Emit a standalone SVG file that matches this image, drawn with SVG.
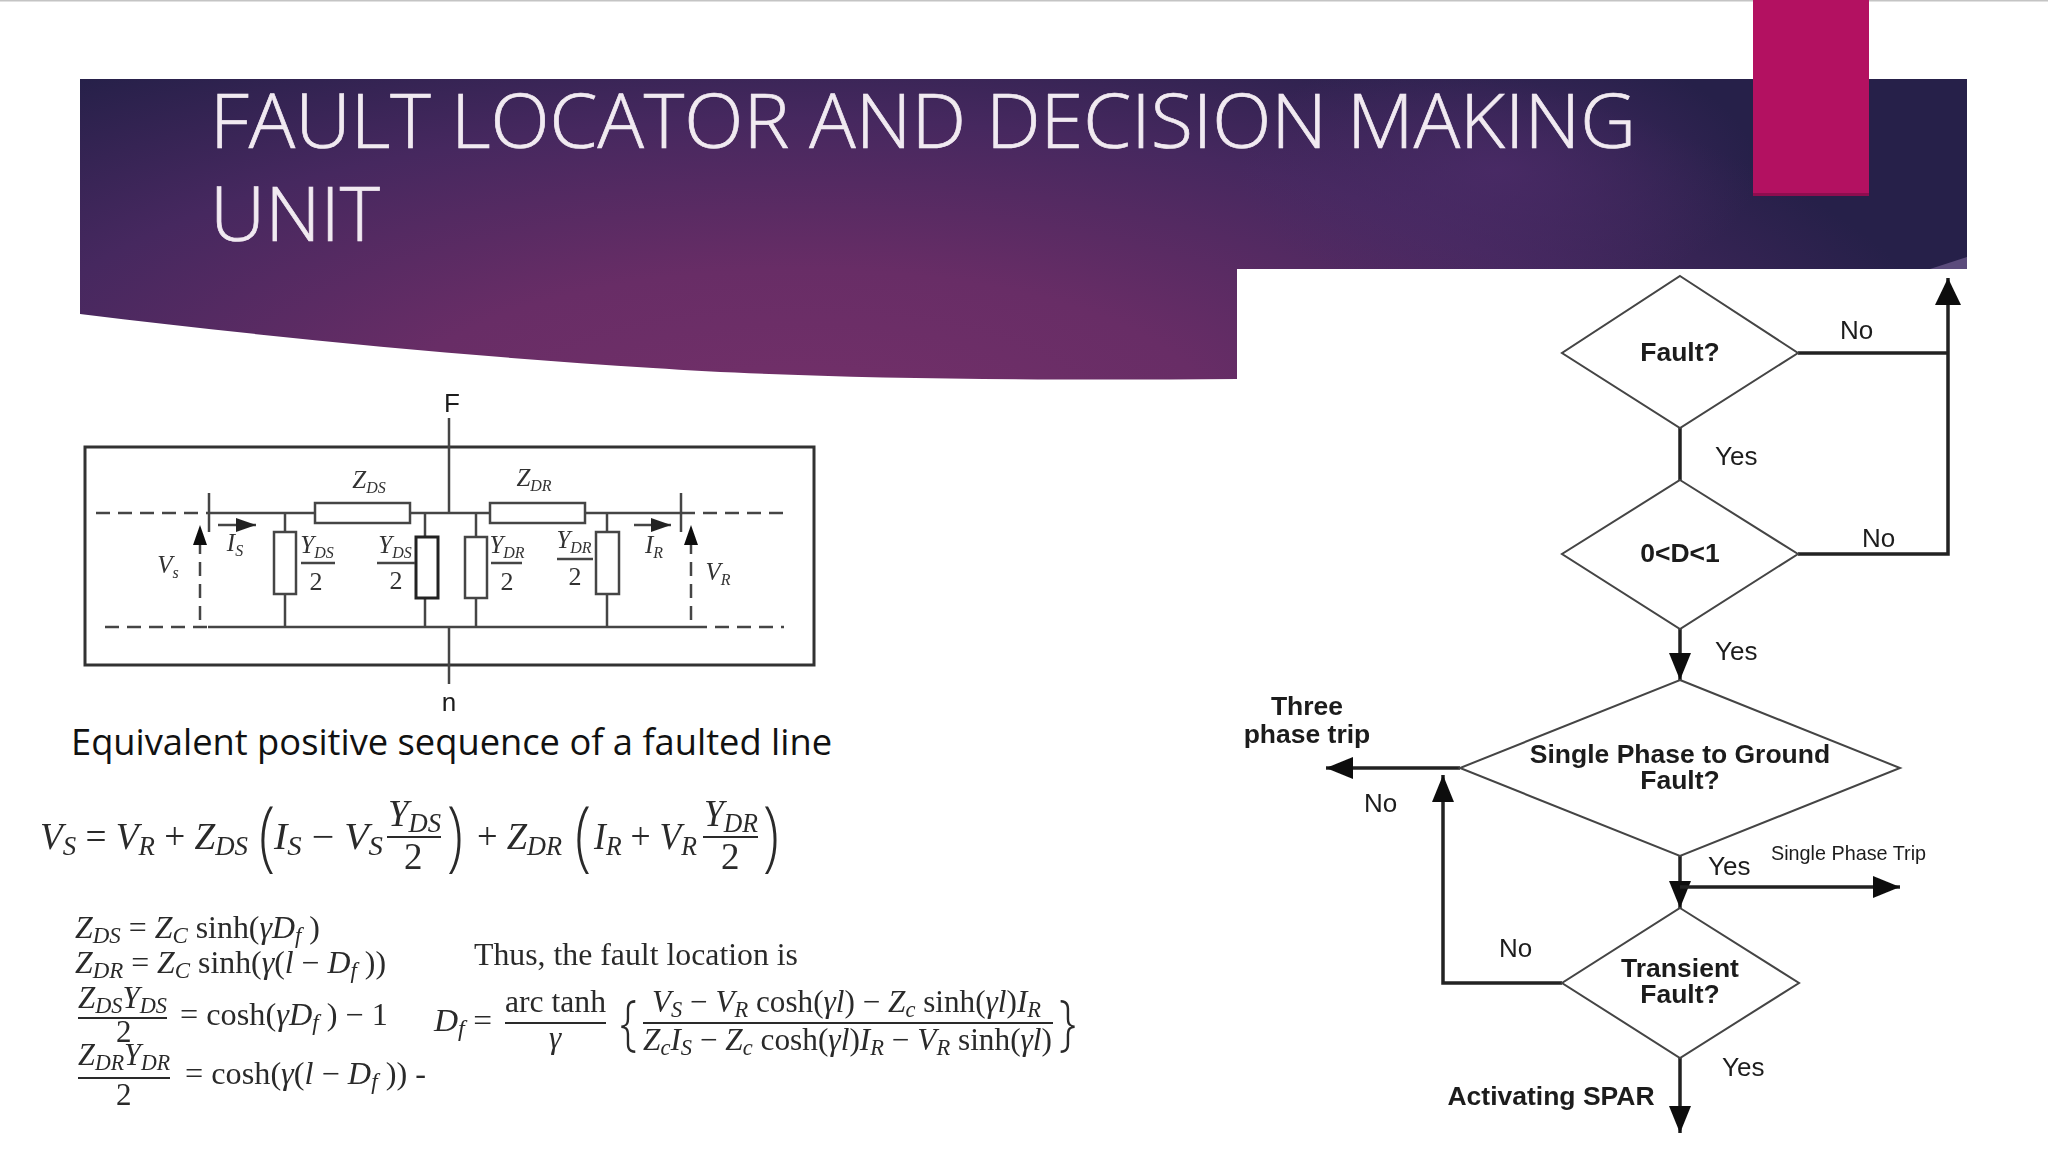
<svg xmlns="http://www.w3.org/2000/svg" width="2048" height="1152" viewBox="0 0 2048 1152">
<style>
.fl{font-family:"Liberation Sans",Arial,sans-serif;fill:#1c1c1c;font-size:26px}
.b{font-weight:700;font-size:26.5px;text-anchor:middle}
.d{fill:#fff;stroke:#444;stroke-width:2}
.c{fill:none;stroke:#222;stroke-width:3.5}
.w{fill:none;stroke:#444;stroke-width:2.5}
.da{fill:none;stroke:#444;stroke-width:2.5;stroke-dasharray:14 8}
.r{fill:#fff;stroke:#444;stroke-width:2.5}
.rt{fill:#fff;stroke:#222;stroke-width:3}
.t{font-family:"Liberation Serif","Times New Roman",serif;font-style:italic;fill:#333;font-size:25px;text-anchor:middle}
.s2{font-size:16px}
.n{font-family:"Liberation Serif","Times New Roman",serif;font-size:26px;fill:#333;text-anchor:middle}
.m{font-family:"Liberation Serif","Times New Roman",serif;fill:#2a2a2a;font-size:37px}
.i{font-style:italic}
.su{font-size:.72em;font-style:italic}
.p{font-family:"Open Sans","Liberation Sans",sans-serif;font-weight:300;fill:#2a2a2a}
.ttl{font-family:"Open Sans","Noto Sans",sans-serif;font-weight:300;font-size:75px;fill:#f1eaf1;stroke:#f1eaf1;stroke-width:.7}
</style>
<defs>
<radialGradient id="band" gradientUnits="userSpaceOnUse" cx="0" cy="0" r="1" gradientTransform="translate(800 420) scale(1180 430)">
<stop offset="0" stop-color="#733069"/>
<stop offset="0.35" stop-color="#682d66"/>
<stop offset="0.7" stop-color="#46285f"/>
<stop offset="1" stop-color="#262049"/>
</radialGradient>
<radialGradient id="glow" gradientUnits="userSpaceOnUse" cx="0" cy="0" r="1" gradientTransform="translate(1497 170) scale(260 130)">
<stop offset="0" stop-color="#4c2b68" stop-opacity=".8"/>
<stop offset="1" stop-color="#4c2b68" stop-opacity="0"/>
</radialGradient>
<filter id="soft" x="-2%" y="-2%" width="104%" height="104%"><feGaussianBlur stdDeviation="0.45"/></filter>
<marker id="ah" markerUnits="userSpaceOnUse" markerWidth="30" markerHeight="24" refX="27" refY="11" orient="auto"><path d="M0 0L27 11L0 22Z" fill="#111"/></marker>
<marker id="ahl" markerUnits="userSpaceOnUse" markerWidth="30" markerHeight="26" refX="27" refY="13" orient="auto"><path d="M0 0L27 13L0 26Z" fill="#111"/></marker>
<marker id="as" markerUnits="userSpaceOnUse" markerWidth="22" markerHeight="16" refX="20" refY="7" orient="auto"><path d="M0 0L20 7L0 14Z" fill="#222"/></marker>
</defs>
<rect width="2048" height="1152" fill="#fff"/>
<rect width="2048" height="1.5" fill="#c4c4c4"/>
<path id="banner" d="M80 79H1967V269H1237V379C1000 381 800 378 653 368C460 356 260 336 80 314Z" fill="url(#band)"/>
<path d="M1240 79H1967V269H1240Z" fill="url(#glow)"/>
<path d="M1930 269L1967 257V269Z" fill="#5b4c7c"/>
<rect x="1753" y="0" width="116" height="193" fill="#b31161"/>
<rect x="1753" y="193" width="116" height="3" fill="#8e0f50" filter="url(#soft)"/>
<text class="ttl" x="210" y="148" textLength="1426" lengthAdjust="spacingAndGlyphs">FAULT LOCATOR AND DECISION MAKING</text>
<text class="ttl" x="210" y="241" textLength="170" lengthAdjust="spacingAndGlyphs">UNIT</text>

<g id="circuit" filter="url(#soft)">
<rect x="85" y="447" width="729" height="218" fill="none" stroke="#333" stroke-width="3"/>
<path class="w" d="M449 418V513M449 627V684M208 513H681M208 627H693M209 493V532M681 493V532M285 513V532M285 594V627M425 513V537M425 598V627M476 513V537M476 598V627M607 513V532M607 594V627"/>
<path class="da" d="M96 513H208M681 513H784M105 627H208M693 627H784"/>
<path class="da" stroke-dasharray="10 6" d="M200 620V540M691 620V540"/>
<path d="M200 525L207 545H193ZM691 525L698 545H684Z" fill="#111"/>
<path class="w" marker-end="url(#as)" d="M218 525H256"/>
<path class="w" marker-end="url(#as)" d="M634 525H671"/>
<rect class="r" x="315" y="503" width="95" height="20"/>
<rect class="r" x="490" y="503" width="95" height="20"/>
<rect class="r" x="274" y="532" width="22" height="62"/>
<rect class="rt" x="416" y="537" width="22" height="61"/>
<rect class="r" x="465" y="537" width="22" height="61"/>
<rect class="r" x="596" y="532" width="23" height="62"/>
<text class="t" x="369" y="488">Z<tspan class="s2" dy="5">DS</tspan></text>
<text class="t" x="534" y="486">Z<tspan class="s2" dy="5">DR</tspan></text>
<text class="t" x="317" y="553">Y<tspan class="s2" dy="5">DS</tspan></text>
<text class="t" x="395" y="553">Y<tspan class="s2" dy="5">DS</tspan></text>
<text class="t" x="507" y="553">Y<tspan class="s2" dy="5">DR</tspan></text>
<text class="t" x="574" y="548">Y<tspan class="s2" dy="5">DR</tspan></text>
<path class="w" stroke-width="2" d="M301 563H335M377 563H415M491 563H522M557 559H593"/>
<text class="n" x="316" y="590">2</text>
<text class="n" x="396" y="589">2</text>
<text class="n" x="507" y="590">2</text>
<text class="n" x="575" y="585">2</text>
<text class="t" x="168" y="573">V<tspan class="s2" dy="5">s</tspan></text>
<text class="t" x="235" y="551">I<tspan class="s2" dy="5">S</tspan></text>
<text class="t" x="654" y="553">I<tspan class="s2" dy="5">R</tspan></text>
<text class="t" x="718" y="580">V<tspan class="s2" dy="5">R</tspan></text>
<text class="fl" x="452" y="412" text-anchor="middle">F</text>
<text class="fl" x="449" y="711" text-anchor="middle">n</text>
</g>
<text x="71" y="755" textLength="761" lengthAdjust="spacingAndGlyphs" style="font-family:'Open Sans','Noto Sans',sans-serif;font-size:36px;fill:#111">Equivalent positive sequence of a faulted line</text>

<g id="equations" class="m" filter="url(#soft)">
<text x="40" y="849" textLength="208" lengthAdjust="spacingAndGlyphs"><tspan class="i">V</tspan><tspan class="su" dy="6">S</tspan><tspan dy="-6"> = </tspan><tspan class="i">V</tspan><tspan class="su" dy="6">R</tspan><tspan dy="-6"> + </tspan><tspan class="i">Z</tspan><tspan class="su" dy="6">DS</tspan></text>
<text class="p" transform="translate(259 862) scale(.75 1)" font-size="78">(</text>
<text x="274" y="849" textLength="109" lengthAdjust="spacingAndGlyphs"><tspan class="i">I</tspan><tspan class="su" dy="6">S</tspan><tspan dy="-6"> − </tspan><tspan class="i">V</tspan><tspan class="su" dy="6">S</tspan></text>
<text x="388" y="826" textLength="53" lengthAdjust="spacingAndGlyphs"><tspan class="i">Y</tspan><tspan class="su" dy="6">DS</tspan></text>
<text x="404" y="869">2</text>
<path d="M387 837H441M703 837H758" stroke="#2a2a2a" stroke-width="2"/>
<text class="p" transform="translate(447 862) scale(.75 1)" font-size="78">)</text>
<text x="477" y="849" textLength="85" lengthAdjust="spacingAndGlyphs">+ <tspan class="i">Z</tspan><tspan class="su" dy="6">DR</tspan></text>
<text class="p" transform="translate(575 862) scale(.75 1)" font-size="78">(</text>
<text x="594" y="849" textLength="103" lengthAdjust="spacingAndGlyphs"><tspan class="i">I</tspan><tspan class="su" dy="6">R</tspan><tspan dy="-6"> + </tspan><tspan class="i">V</tspan><tspan class="su" dy="6">R</tspan></text>
<text x="704" y="826" textLength="54" lengthAdjust="spacingAndGlyphs"><tspan class="i">Y</tspan><tspan class="su" dy="6">DR</tspan></text>
<text x="721" y="869">2</text>
<text class="p" transform="translate(763 862) scale(.75 1)" font-size="78">)</text>

<g>
<text x="75" y="938" textLength="245" lengthAdjust="spacingAndGlyphs" font-size="31"><tspan class="i">Z</tspan><tspan class="su" dy="5">DS</tspan><tspan dy="-5"> = </tspan><tspan class="i">Z</tspan><tspan class="su" dy="5">C</tspan><tspan dy="-5"> sinh(</tspan><tspan class="i">γD</tspan><tspan class="su i" dy="5">f</tspan><tspan dy="-5"> )</tspan></text>
<text x="75" y="973" textLength="311" lengthAdjust="spacingAndGlyphs" font-size="31"><tspan class="i">Z</tspan><tspan class="su" dy="5">DR</tspan><tspan dy="-5"> = </tspan><tspan class="i">Z</tspan><tspan class="su" dy="5">C</tspan><tspan dy="-5"> sinh(</tspan><tspan class="i">γ</tspan>(<tspan class="i">l</tspan> − <tspan class="i">D</tspan><tspan class="su i" dy="5">f</tspan><tspan dy="-5"> ))</tspan></text>
<text x="78" y="1008" textLength="89" lengthAdjust="spacingAndGlyphs" font-size="31"><tspan class="i">Z</tspan><tspan class="su" dy="5">DS</tspan><tspan class="i" dy="-5">Y</tspan><tspan class="su" dy="5">DS</tspan></text>
<path d="M78 1018H167M78 1078H170M505 1023H606M643 1023H1053" stroke="#2a2a2a" stroke-width="2"/>
<text x="116" y="1042" font-size="31">2</text>
<text x="180" y="1025" textLength="208" lengthAdjust="spacingAndGlyphs" font-size="31">= cosh(<tspan class="i">γD</tspan><tspan class="su i" dy="5">f</tspan><tspan dy="-5"> ) − 1</tspan></text>
<text x="78" y="1065" textLength="92" lengthAdjust="spacingAndGlyphs" font-size="31"><tspan class="i">Z</tspan><tspan class="su" dy="5">DR</tspan><tspan class="i" dy="-5">Y</tspan><tspan class="su" dy="5">DR</tspan></text>
<text x="116" y="1105" font-size="31">2</text>
<text x="185" y="1084" textLength="241" lengthAdjust="spacingAndGlyphs" font-size="31">= cosh(<tspan class="i">γ</tspan>(<tspan class="i">l</tspan> − <tspan class="i">D</tspan><tspan class="su i" dy="5">f</tspan><tspan dy="-5"> )) -</tspan></text>
<text x="474" y="965" textLength="324" lengthAdjust="spacingAndGlyphs" font-size="31">Thus, the fault location is</text>
<text x="434" y="1031" textLength="58" lengthAdjust="spacingAndGlyphs" font-size="31"><tspan class="i">D</tspan><tspan class="su i" dy="5">f</tspan><tspan dy="-5"> =</tspan></text>
<text x="505" y="1012" textLength="101" lengthAdjust="spacingAndGlyphs" font-size="31">arc tanh</text>
<text x="549" y="1048" font-size="31" class="i">γ</text>
<text class="p" transform="translate(620 1044) scale(.8 1)" font-size="60">{</text>
<text x="652" y="1012" textLength="389" lengthAdjust="spacingAndGlyphs" font-size="31"><tspan class="i">V</tspan><tspan class="su" dy="5">S</tspan><tspan dy="-5"> − </tspan><tspan class="i">V</tspan><tspan class="su" dy="5">R</tspan><tspan dy="-5"> cosh(</tspan><tspan class="i">γl</tspan>) − <tspan class="i">Z</tspan><tspan class="su i" dy="5">c</tspan><tspan dy="-5"> sinh(</tspan><tspan class="i">γl</tspan>)<tspan class="i">I</tspan><tspan class="su" dy="5">R</tspan></text>
<text x="643" y="1050" textLength="409" lengthAdjust="spacingAndGlyphs" font-size="31"><tspan class="i">Z</tspan><tspan class="su i" dy="5">c</tspan><tspan class="i" dy="-5">I</tspan><tspan class="su" dy="5">S</tspan><tspan dy="-5"> − </tspan><tspan class="i">Z</tspan><tspan class="su i" dy="5">c</tspan><tspan dy="-5"> cosh(</tspan><tspan class="i">γl</tspan>)<tspan class="i">I</tspan><tspan class="su" dy="5">R</tspan><tspan dy="-5"> − </tspan><tspan class="i">V</tspan><tspan class="su" dy="5">R</tspan><tspan dy="-5"> sinh(</tspan><tspan class="i">γl</tspan>)</text>
<text class="p" transform="translate(1059 1044) scale(.8 1)" font-size="60">}</text>
</g>
</g>

<g id="connectors" filter="url(#soft)">
<path class="c" d="M1680 428V480"/>
<path class="c" marker-end="url(#ah)" d="M1680 629V680"/>
<path class="c" marker-end="url(#ah)" d="M1680 856V908"/>
<path class="c" marker-end="url(#ah)" d="M1680 887H1900"/>
<path class="c" marker-end="url(#ah)" d="M1680 1058V1133"/>
<path class="c" marker-end="url(#ah)" d="M1460 768H1326"/>
<path class="c" marker-end="url(#ah)" d="M1562 983H1443V775"/>
<path class="c" d="M1798 353H1948"/>
<path class="c" marker-end="url(#ahl)" d="M1798 554H1948V278"/>
</g>

<g id="node-fault" filter="url(#soft)"><path class="d" d="M1680 276L1798 353L1680 428L1562 353Z"/><text class="fl b" x="1680" y="361">Fault?</text></g>
<g id="node-range" filter="url(#soft)"><path class="d" d="M1680 480L1798 554L1680 629L1562 554Z"/><text class="fl b" x="1680" y="562">0&lt;D&lt;1</text></g>
<g id="node-single" filter="url(#soft)"><path class="d" d="M1680 680L1900 768L1680 856L1460 768Z"/><text class="fl b" x="1680" y="763">Single Phase to Ground</text><text class="fl b" x="1680" y="789">Fault?</text></g>
<g id="node-transient" filter="url(#soft)"><path class="d" d="M1680 908L1799 983L1680 1058L1562 983Z"/><text class="fl b" x="1680" y="977">Transient</text><text class="fl b" x="1680" y="1003">Fault?</text></g>
<g id="labels" filter="url(#soft)">
<text class="fl b" x="1307" y="715">Three</text>
<text class="fl b" x="1307" y="743">phase trip</text>
<text class="fl b" x="1551" y="1105">Activating SPAR</text>
<text class="fl" x="1840" y="339">No</text>
<text class="fl" x="1862" y="547">No</text>
<text class="fl" x="1715" y="465">Yes</text>
<text class="fl" x="1715" y="660">Yes</text>
<text class="fl" x="1364" y="812">No</text>
<text class="fl" x="1708" y="875">Yes</text>
<text class="fl" x="1499" y="957">No</text>
<text class="fl" x="1722" y="1076">Yes</text>
<text class="fl" x="1771" y="860" style="font-size:19.8px">Single Phase Trip</text>
</g>
</svg>
